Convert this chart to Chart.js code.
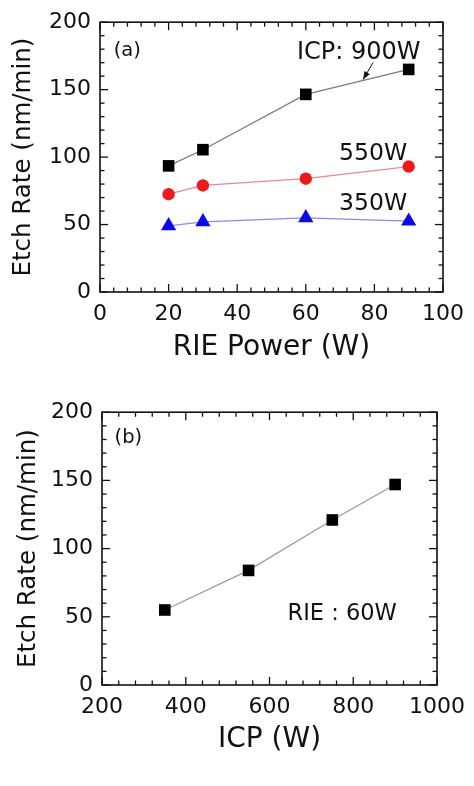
<!DOCTYPE html>
<html><head><meta charset="utf-8">
<script src="https://cdn.jsdelivr.net/npm/chart.js@4.4.0/dist/chart.umd.min.js"></script>
<style>
html,body{margin:0;padding:0;background:#fff;width:474px;height:786px;overflow:hidden;}
#a{position:absolute;left:0;top:0;width:474px;height:390px;}
#b{position:absolute;left:0;top:390px;width:474px;height:396px;}
</style></head><body>
<div id="a"><canvas id="ca"></canvas></div>
<div id="b"><canvas id="cb"></canvas></div>
<script>
// ---- data ----
const riePower = [20, 30, 60, 90];
const rate900 = [93.5, 105.5, 146.5, 165];
const rate550 = [72.5, 79, 84, 93];
const rate350 = [49, 52, 55, 52.5];
const icpPower = [350, 550, 750, 900];
const rateRie60 = [55, 84, 121, 147];
const seriesLabels = ['ICP: 900W', '550W', '350W'];

const FONT = 'DejaVu Sans';
const INK = '#111111';

const frameTicks = {
  id: 'frameTicks',
  afterDraw(chart, args, o) {
    const {ctx, chartArea: a, scales: {x, y}} = chart;
    ctx.save();
    ctx.strokeStyle = INK;
    ctx.lineWidth = 1.3;
    const seg = (x1, y1, x2, y2) => { ctx.beginPath(); ctx.moveTo(x1, y1); ctx.lineTo(x2, y2); ctx.stroke(); };
    const isMajor = (v, m) => Math.abs(v / m - Math.round(v / m)) < 1e-6;
    for (let v = x.min; v <= x.max + 1e-9; v += o.xMinor) {
      const p = x.getPixelForValue(v);
      const L = isMajor(v - x.min, o.xMajor) ? 8 : 4.5;
      seg(p, a.bottom, p, a.bottom - L);
      seg(p, a.top, p, a.top + L);
    }
    for (let v = y.min; v <= y.max + 1e-9; v += o.yMinor) {
      const p = y.getPixelForValue(v);
      const L = isMajor(v, o.yMajor) ? 8 : 4.5;
      seg(a.left, p, a.left + L, p);
      seg(a.right, p, a.right - L, p);
    }
    ctx.lineWidth = 1.6;
    ctx.strokeRect(a.left, a.top, a.right - a.left, a.bottom - a.top);
    ctx.restore();
  }
};

const notes = {
  id: 'notes',
  afterDraw(chart, args, o) {
    const {ctx, scales: {x, y}} = chart;
    ctx.save();
    ctx.fillStyle = INK;
    ctx.textBaseline = 'middle';
    ctx.textAlign = 'left';
    (o.items || []).forEach(it => {
      ctx.font = it.size + 'px "' + FONT + '"';
      ctx.fillText(it.text, x.getPixelForValue(it.x), y.getPixelForValue(it.y));
    });
    (o.arrows || []).forEach(ar => {
      const x1 = x.getPixelForValue(ar.from[0]), y1 = y.getPixelForValue(ar.from[1]);
      const x2 = x.getPixelForValue(ar.to[0]), y2 = y.getPixelForValue(ar.to[1]);
      ctx.strokeStyle = INK; ctx.lineWidth = 1;
      ctx.beginPath(); ctx.moveTo(x1, y1); ctx.lineTo(x2, y2); ctx.stroke();
      const ang = Math.atan2(y2 - y1, x2 - x1), L = 8, W = 3;
      ctx.beginPath();
      ctx.moveTo(x2, y2);
      ctx.lineTo(x2 - L * Math.cos(ang) + W * Math.sin(ang), y2 - L * Math.sin(ang) - W * Math.cos(ang));
      ctx.lineTo(x2 - L * Math.cos(ang) - W * Math.sin(ang), y2 - L * Math.sin(ang) + W * Math.cos(ang));
      ctx.closePath(); ctx.fill();
    });
    ctx.restore();
  }
};

function pts(xs, ys) { return xs.map((v, i) => ({x: v, y: ys[i]})); }

function axis(min, max, step, extra) {
  return Object.assign({
    type: 'linear', min, max,
    ticks: {stepSize: step, font: {family: FONT, size: 22}, color: INK, padding: 9, callback: v => String(v)},
    grid: {display: false, drawTicks: false},
    border: {display: false}
  }, extra);
}

const common = {
  responsive: true, maintainAspectRatio: false, animation: false,
  events: [],
};

new Chart(document.getElementById('ca'), {
  type: 'line',
  data: {
    datasets: [
      {label: seriesLabels[0], data: pts(riePower, rate900), borderColor: '#7a7a7a', borderWidth: 1.2,
       pointStyle: 'rect', pointRadius: 8.2, pointBackgroundColor: '#000', pointBorderColor: '#000', pointBorderWidth: 0},
      {label: seriesLabels[1], data: pts(riePower, rate550), borderColor: '#e88a8a', borderWidth: 1.2,
       pointStyle: 'circle', pointRadius: 6.2, pointBackgroundColor: '#ee1a1a', pointBorderColor: '#ee1a1a', pointBorderWidth: 0},
      {label: seriesLabels[2], data: pts(riePower, rate350), borderColor: '#8a8af0', borderWidth: 1.2,
       pointStyle: 'triangle', pointRadius: 8.8, pointBackgroundColor: '#0a0ae8', pointBorderColor: '#0a0ae8', pointBorderWidth: 0}
    ]
  },
  options: Object.assign({}, common, {
    layout: {padding: {left: 0, right: 31, top: 13, bottom: 0}},
    clip: false,
    plugins: {
      legend: {display: false}, tooltip: {enabled: false},
      frameTicks: {xMinor: 4, xMajor: 20, yMinor: 10, yMajor: 50},
      notes: {
        items: [
          {text: '(a)', x: 4.0, y: 179, size: 19.5},
          {text: seriesLabels[0], x: 57.4, y: 177, size: 24},
          {text: seriesLabels[1], x: 69.7, y: 102.2, size: 23.5},
          {text: seriesLabels[2], x: 69.7, y: 65.6, size: 23.5}
        ],
        arrows: [{from: [79.6, 170], to: [76.7, 157.5]}]
      }
    },
    scales: {
      x: axis(0, 100, 20, {
        title: {display: true, text: 'RIE Power (W)', font: {family: FONT, size: 28}, color: INK, padding: {top: 0, bottom: 25}},
        afterFit(s) { s.height = 98; }
      }),
      y: axis(0, 200, 50, {
        title: {display: true, text: 'Etch Rate (nm/min)', font: {family: FONT, size: 24.5}, color: INK, padding: {top: 9, bottom: 0}},
        afterFit(s) { s.width = 100; }
      })
    }
  }),
  plugins: [frameTicks, notes]
});

new Chart(document.getElementById('cb'), {
  type: 'line',
  data: {
    datasets: [
      {label: 'RIE : 60W', data: pts(icpPower, rateRie60), borderColor: '#9a9a9a', borderWidth: 1.3,
       pointStyle: 'rect', pointRadius: 8.2, pointBackgroundColor: '#000', pointBorderColor: '#000', pointBorderWidth: 0}
    ]
  },
  options: Object.assign({}, common, {
    layout: {padding: {left: 0, right: 29, top: 17, bottom: 0}},
    clip: false,
    plugins: {
      legend: {display: false}, tooltip: {enabled: false},
      frameTicks: {xMinor: 40, xMajor: 200, yMinor: 10, yMajor: 50},
      notes: {
        items: [
          {text: '(b)', x: 230, y: 181.3, size: 19.5},
          {text: 'RIE : 60W', x: 643, y: 51.8, size: 22.5}
        ]
      }
    },
    scales: {
      x: axis(200, 1000, 200, {
        title: {display: true, text: 'ICP (W)', font: {family: FONT, size: 28}, color: INK, padding: {top: 0, bottom: 29}},
        afterFit(s) { s.height = 101; }
      }),
      y: axis(0, 200, 50, {
        title: {display: true, text: 'Etch Rate (nm/min)', font: {family: FONT, size: 24.5}, color: INK, padding: {top: 14, bottom: 0}},
        afterFit(s) { s.width = 102; }
      })
    }
  }),
  plugins: [frameTicks, notes]
});
</script>
</body></html>
